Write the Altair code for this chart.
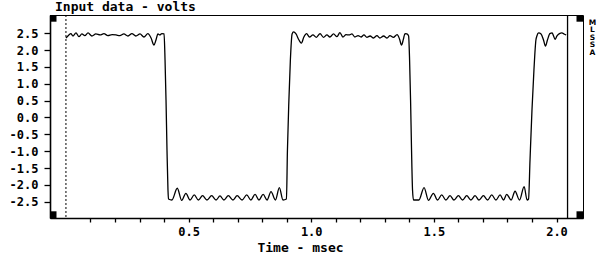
import altair as alt
import pandas as pd

# ---- data (time in msec, amplitude in volts) ----
times = [
    0.000, 0.012, 0.020, 0.029, 0.041, 0.053, 0.065, 0.077, 0.090, 0.106,
    0.122, 0.139, 0.155, 0.171, 0.188, 0.204, 0.220, 0.236, 0.253, 0.269,
    0.285, 0.302, 0.318, 0.334, 0.347, 0.359, 0.367, 0.375, 0.383, 0.391,
    0.400, 0.404, 0.408, 0.412, 0.416, 0.418,
    0.432, 0.454, 0.472, 0.489, 0.506, 0.523, 0.540, 0.557, 0.575, 0.594,
    0.612, 0.628, 0.644, 0.662, 0.681, 0.698, 0.718, 0.737, 0.754, 0.771,
    0.787, 0.804, 0.820, 0.836, 0.854, 0.870, 0.885, 0.899,
    0.903, 0.909, 0.915, 0.922, 0.928, 0.938, 0.950, 0.960, 0.970, 0.981,
    0.993, 1.007, 1.021, 1.036, 1.050, 1.064, 1.076, 1.091, 1.105, 1.117,
    1.129, 1.142, 1.154, 1.166, 1.178, 1.191, 1.203, 1.215, 1.227, 1.240,
    1.254, 1.268, 1.280, 1.295, 1.309, 1.321, 1.335, 1.350, 1.360, 1.368,
    1.376, 1.382, 1.390, 1.397, 1.401, 1.405, 1.409, 1.413, 1.417,
    1.439, 1.460, 1.478, 1.498, 1.515, 1.532, 1.549, 1.566, 1.582, 1.600,
    1.617, 1.634, 1.651, 1.668, 1.684, 1.702, 1.719, 1.736, 1.753, 1.770,
    1.784, 1.797, 1.815, 1.831, 1.849, 1.868, 1.880, 1.886,
    1.892, 1.900, 1.908, 1.916, 1.920, 1.927, 1.937, 1.947, 1.955, 1.963,
    1.973, 1.982, 1.988, 1.994, 2.002, 2.012, 2.022, 2.031, 2.039,
]
volts = [
    2.36, 2.45, 2.49, 2.42, 2.51, 2.40, 2.48, 2.43, 2.51, 2.42,
    2.48, 2.45, 2.49, 2.43, 2.46, 2.45, 2.43, 2.48, 2.42, 2.49,
    2.42, 2.48, 2.39, 2.49, 2.36, 2.15, 2.30, 2.48, 2.45, 2.49,
    2.48, 1.71, 0.52, -0.97, -2.15, -2.42,
    -2.45, -2.10, -2.46, -2.25, -2.45, -2.30, -2.45, -2.32, -2.45, -2.32,
    -2.45, -2.33, -2.45, -2.32, -2.45, -2.32, -2.45, -2.30, -2.45, -2.28,
    -2.45, -2.28, -2.45, -2.20, -2.45, -2.08, -2.45, -2.42,
    -0.97, 0.52, 1.71, 2.48, 2.54, 2.48, 2.30, 2.21, 2.39, 2.49,
    2.39, 2.45, 2.38, 2.49, 2.38, 2.45, 2.39, 2.48, 2.40, 2.52,
    2.39, 2.46, 2.45, 2.48, 2.39, 2.43, 2.39, 2.45, 2.38, 2.42,
    2.36, 2.43, 2.36, 2.42, 2.36, 2.43, 2.38, 2.46, 2.33, 2.15,
    2.33, 2.49, 2.48, 2.42, 1.71, 0.52, -0.97, -2.15, -2.45,
    -2.45, -2.08, -2.46, -2.25, -2.45, -2.30, -2.45, -2.32, -2.45, -2.32,
    -2.45, -2.32, -2.45, -2.32, -2.45, -2.32, -2.45, -2.30, -2.45, -2.30,
    -2.45, -2.28, -2.45, -2.19, -2.45, -2.05, -2.45, -2.42,
    -1.26, 0.22, 1.41, 2.30, 2.42, 2.51, 2.48, 2.30, 2.12, 2.30,
    2.49, 2.51, 2.42, 2.32, 2.42, 2.49, 2.51, 2.48, 2.45,
]

dashed_cursor = [0.0]
solid_cursor = [2.045]

x_ticks = [0.1, 0.2, 0.3, 0.4, 0.5, 0.6, 0.7, 0.8, 0.9, 1.0,
           1.1, 1.2, 1.3, 1.4, 1.5, 1.6, 1.7, 1.8, 1.9, 2.0]
y_ticks = [-2.5, -2.0, -1.5, -1.0, -0.5, 0.0, 0.5, 1.0, 1.5, 2.0, 2.5]
x_domain = [-0.065, 2.108]
y_domain = [-2.984, 3.043]

title_text = "Input data - volts"
x_title = "Time - msec"
side_text = ["M", "L", "S", "S", "A"]

FONT = "DejaVu Sans Mono"
W, H = 533, 203

wave = pd.DataFrame({"t": times, "v": volts, "i": list(range(len(times)))})

xs = alt.Scale(domain=x_domain, nice=False, zero=False)
ys = alt.Scale(domain=y_domain, nice=False, zero=False)

x_axis = alt.Axis(
    values=x_ticks,
    labelExpr="round(datum.value*10) % 5 == 0 ? format(datum.value, '.1f') : ''",
    labelOverlap=False, labelFlush=False,
    title=x_title, titleX=250, titleY=29, titleAnchor="start", titleAlign="center",
    titleBaseline="middle",
    tickSize=4, labelPadding=4,
)
y_axis = alt.Axis(
    values=y_ticks,
    labelExpr="replace(format(datum.value, '.1f'), '\u2212', '-')",
    title=None, tickSize=6, labelPadding=6, labelOverlap=False, labelFlush=False,
)
right_axis = alt.Axis(
    orient="right", labels=False, ticks=False, domain=False, grid=False,
    title=side_text, titleAngle=0, titleAlign="center", titleBaseline="top",
    titleX=9, titleY=3, titleLineHeight=7.6, titleFontSize=7.5,
    titleFont="DejaVu Sans", titleAnchor="start",
)

line = alt.Chart(wave).mark_line(
    color="black", strokeWidth=1.3, interpolate="monotone"
).encode(
    x=alt.X("t:Q", scale=xs, axis=x_axis),
    y=alt.Y("v:Q", scale=ys, axis=y_axis),
    order=alt.Order("i:Q"),
)

dashed = alt.Chart(pd.DataFrame({"t": dashed_cursor})).mark_rule(
    color="black", strokeWidth=1, strokeDash=[2, 2]
).encode(x=alt.X("t:Q", scale=xs, axis=x_axis))

solid = alt.Chart(pd.DataFrame({"t": solid_cursor})).mark_rule(
    color="black", strokeWidth=1.3
).encode(x=alt.X("t:Q", scale=xs, axis=x_axis))

# corner markers of the plot frame
sq_w = (x_domain[1] - x_domain[0]) * 6.5 / W
sq_h = (y_domain[1] - y_domain[0]) * 6.7 / H
corners = pd.DataFrame({
    "x1": [x_domain[0], x_domain[0], x_domain[1] - sq_w, x_domain[1] - sq_w],
    "x2": [x_domain[0] + sq_w, x_domain[0] + sq_w, x_domain[1], x_domain[1]],
    "y1": [y_domain[1] - sq_h, y_domain[0], y_domain[1] - sq_h, y_domain[0]],
    "y2": [y_domain[1], y_domain[0] + sq_h, y_domain[1], y_domain[0] + sq_h],
})
marks = alt.Chart(corners).mark_rect(color="black").encode(
    x=alt.X("x1:Q", scale=xs, axis=x_axis), x2="x2",
    y=alt.Y("y1:Q", scale=ys, axis=right_axis), y2="y2",
)

chart = alt.layer(line, dashed, solid, marks).resolve_scale(
    y="independent"
).properties(
    width=W, height=H,
    title=alt.TitleParams(
        title_text, anchor="start", frame="group", dx=5, offset=0,
        font=FONT, fontSize=13, fontWeight="bold", color="black",
    ),
    autosize=alt.AutoSizeParams(type="none"),
    padding={"left": 50, "top": 15, "right": 17, "bottom": 40},
    background="white",
).configure_view(
    stroke="black", strokeWidth=1
).configure_axis(
    labelFont=FONT, labelFontWeight="bold", labelFontSize=12, labelColor="black",
    titleFont=FONT, titleFontWeight="bold", titleFontSize=13, titleColor="black",
    domainColor="black", domainWidth=1.6, tickColor="black", tickWidth=1.3,
    grid=False,
)

chart.save("out.html", embed_options={"renderer": "svg", "actions": False})
